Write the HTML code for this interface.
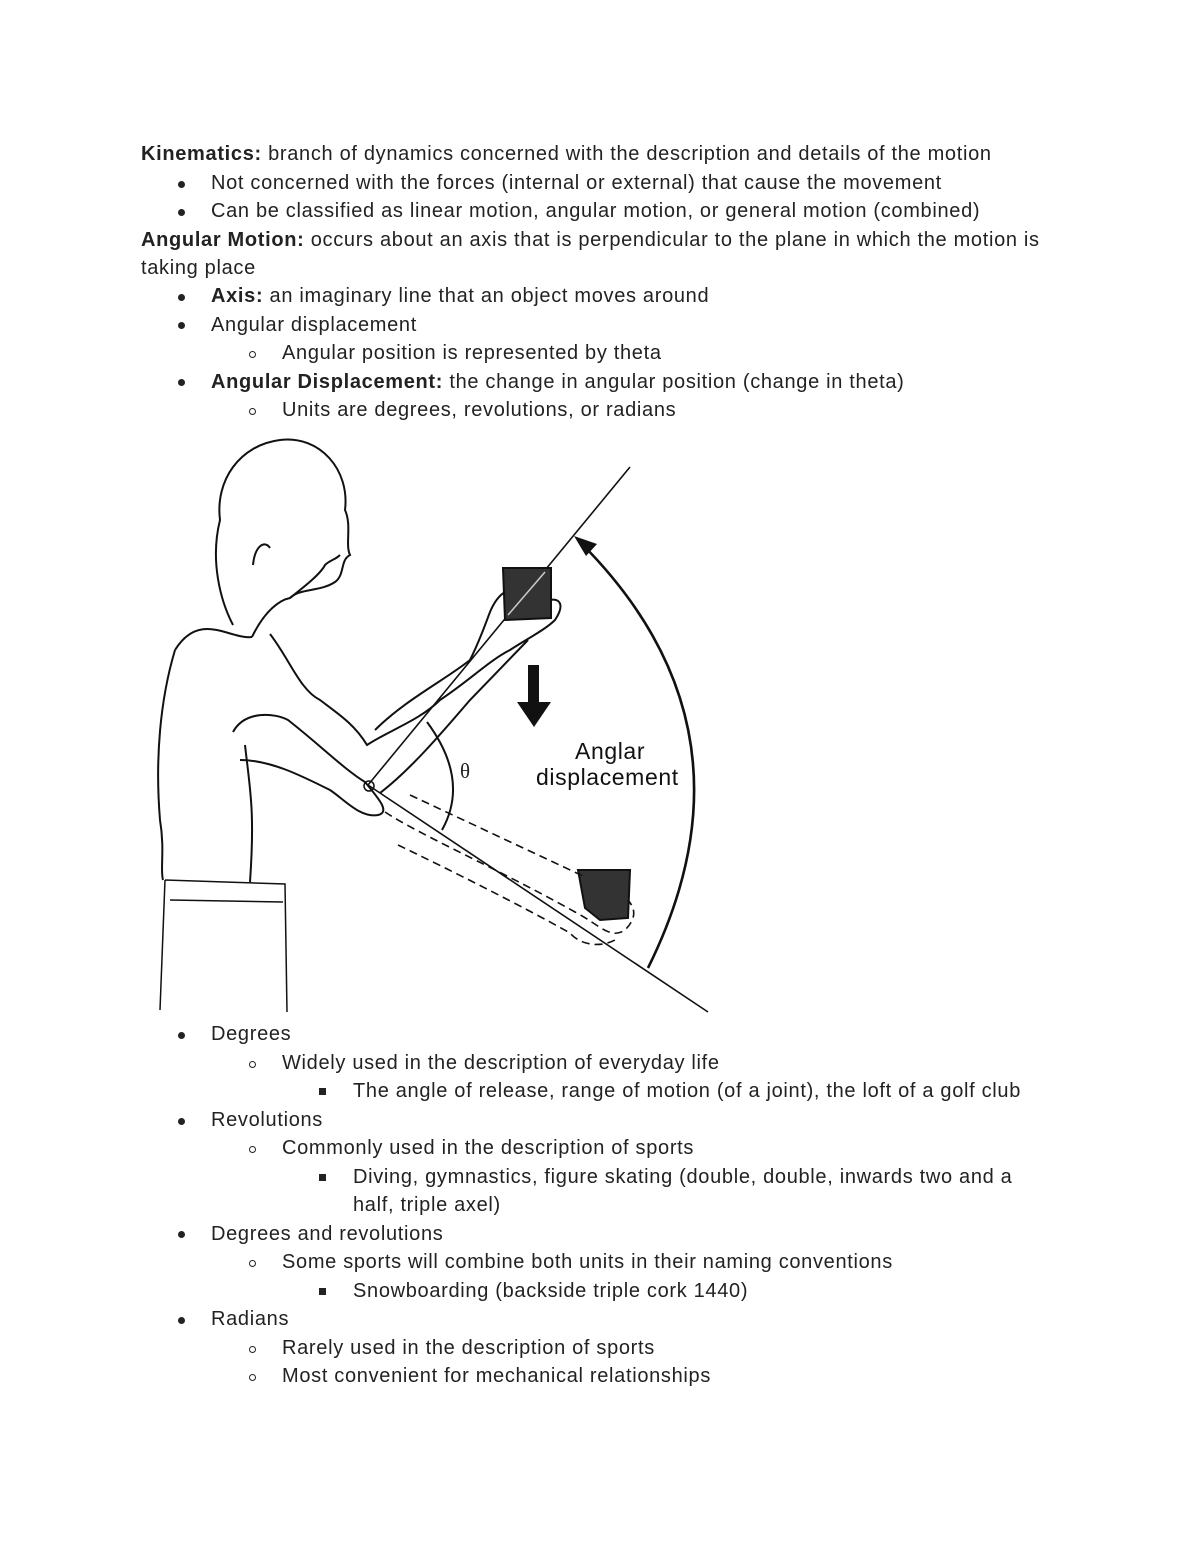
<!DOCTYPE html>
<html><head><style>
body{margin:0;background:#fff;width:1200px;height:1553px;position:relative;overflow:hidden;font-family:"Liberation Sans",Arial,sans-serif;font-size:20px;letter-spacing:0.68px;color:#222}
.l{position:absolute;white-space:nowrap;line-height:24px}
.b{position:absolute;width:7px;height:7px;border-radius:50%;background:#222}
.c{position:absolute;width:7px;height:7px;border-radius:50%;border:1.4px solid #222;box-sizing:border-box}
.s{position:absolute;width:7px;height:7px;background:#222}
</style></head><body>
<div class="l" style="left:141px;top:142px"><b>Kinematics:</b> branch of dynamics concerned with the description and details of the motion</div>
<div class="b" style="left:178px;top:181px"></div><div class="l" style="left:211px;top:171px">Not concerned with the forces (internal or external) that cause the movement</div>
<div class="b" style="left:178px;top:209px"></div><div class="l" style="left:211px;top:199px">Can be classified as linear motion, angular motion, or general motion (combined)</div>
<div class="l" style="left:141px;top:228px"><b>Angular Motion:</b> occurs about an axis that is perpendicular to the plane in which the motion is</div>
<div class="l" style="left:141px;top:256px">taking place</div>
<div class="b" style="left:178px;top:294px"></div><div class="l" style="left:211px;top:284px"><b>Axis:</b> an imaginary line that an object moves around</div>
<div class="b" style="left:178px;top:322px"></div><div class="l" style="left:211px;top:313px">Angular displacement</div>
<div class="c" style="left:249px;top:351px"></div><div class="l" style="left:282px;top:341px">Angular position is represented by theta</div>
<div class="b" style="left:178px;top:379px"></div><div class="l" style="left:211px;top:370px"><b>Angular Displacement:</b> the change in angular position (change in theta)</div>
<div class="c" style="left:249px;top:408px"></div><div class="l" style="left:282px;top:398px">Units are degrees, revolutions, or radians</div>

<svg style="position:absolute;left:0;top:0" width="1200" height="1553" fill="none" stroke="#111" stroke-width="2">
<line x1="368" y1="785" x2="630" y2="467" stroke-width="1.6"/>
<line x1="368" y1="785" x2="708" y2="1012" stroke-width="1.6"/>
<path d="M582 544 Q766 730 648 968" stroke-width="2.6"/>
<polygon points="574,536 597,544 586,556" fill="#111" stroke="none"/>
<path d="M427 722 Q470 780 442 830" stroke-width="2"/>
<rect x="528" y="665" width="11" height="38" fill="#111" stroke="none"/>
<polygon points="517,702 551,702 534,727" fill="#111" stroke="none"/>
<polygon points="503,568 551,568 551,618 505,620" fill="#333" stroke="#111"/>
<line x1="508" y1="615" x2="545" y2="572" stroke="#ccc" stroke-width="1.5"/>
<polygon points="578,870 630,870 628,918 600,920 585,908" fill="#333" stroke="#111"/>
<path d="M233 732 C245 710 275 713 288 720 C320 745 345 770 365 782 C380 800 390 812 378 815 C360 818 345 800 330 790 C300 775 270 760 240 760"/>
<path d="M175 650 C160 700 155 760 160 820 C165 850 160 870 163 880"/>
<path d="M252 637 C230 640 200 610 175 650"/>
<path d="M252 637 C265 610 280 600 290 598 C300 590 320 575 325 565 C330 560 335 560 340 555"/>
<path d="M270 634 C290 660 300 690 320 700 C340 715 355 725 367 745 C390 730 420 720 440 700 C470 680 490 660 510 650 C525 640 545 630 555 620 C565 605 560 598 550 600"/>
<path d="M375 730 C405 700 445 680 470 660 C480 640 485 625 490 612 C495 600 500 595 505 592"/>
<path d="M380 793 C410 770 440 735 470 700 L528 640"/>
<path d="M233 625 C220 600 210 560 220 520 C215 480 240 445 280 440 C320 435 350 470 345 510 C352 525 345 545 350 555 C340 560 345 575 335 582 C320 592 300 588 290 598"/>
<path d="M253 565 C255 545 265 540 270 548"/>
<path d="M245 745 C250 790 255 810 250 882"/>
<path d="M165 880 L285 884 L287 1012 M165 880 L160 1010 M170 900 L283 902" stroke-width="1.5"/>
<path d="M410 795 L583 876 M385 812 C420 835 500 870 575 912 C600 925 610 940 625 930 C640 915 632 905 628 900" stroke-dasharray="8,5" stroke-width="1.6"/>
<path d="M398 845 C450 870 520 905 570 933 C580 945 600 948 615 940" stroke-dasharray="8,5" stroke-width="1.6"/>
<circle cx="369" cy="786" r="5" stroke-width="1.5"/>
</svg>
<div class="l" style="left:460px;top:759px;font-family:'Liberation Serif',serif;font-size:21px">θ</div>
<div class="l" style="left:575px;top:739px;font-size:23px;letter-spacing:0.6px;color:#111">Anglar</div>
<div class="l" style="left:536px;top:765px;font-size:23px;letter-spacing:0.6px;color:#111">displacement</div>

<div class="b" style="left:178px;top:1032px"></div><div class="l" style="left:211px;top:1022px">Degrees</div>
<div class="c" style="left:249px;top:1061px"></div><div class="l" style="left:282px;top:1051px">Widely used in the description of everyday life</div>
<div class="s" style="left:319px;top:1088px"></div><div class="l" style="left:353px;top:1079px">The angle of release, range of motion (of a joint), the loft of a golf club</div>
<div class="b" style="left:178px;top:1118px"></div><div class="l" style="left:211px;top:1108px">Revolutions</div>
<div class="c" style="left:249px;top:1146px"></div><div class="l" style="left:282px;top:1136px">Commonly used in the description of sports</div>
<div class="s" style="left:319px;top:1174px"></div><div class="l" style="left:353px;top:1165px">Diving, gymnastics, figure skating (double, double, inwards two and a</div>
<div class="l" style="left:353px;top:1193px">half, triple axel)</div>
<div class="b" style="left:178px;top:1231px"></div><div class="l" style="left:211px;top:1222px">Degrees and revolutions</div>
<div class="c" style="left:249px;top:1260px"></div><div class="l" style="left:282px;top:1250px">Some sports will combine both units in their naming conventions</div>
<div class="s" style="left:319px;top:1288px"></div><div class="l" style="left:353px;top:1279px">Snowboarding (backside triple cork 1440)</div>
<div class="b" style="left:178px;top:1317px"></div><div class="l" style="left:211px;top:1307px">Radians</div>
<div class="c" style="left:249px;top:1346px"></div><div class="l" style="left:282px;top:1336px">Rarely used in the description of sports</div>
<div class="c" style="left:249px;top:1374px"></div><div class="l" style="left:282px;top:1364px">Most convenient for mechanical relationships</div>
</body></html>
